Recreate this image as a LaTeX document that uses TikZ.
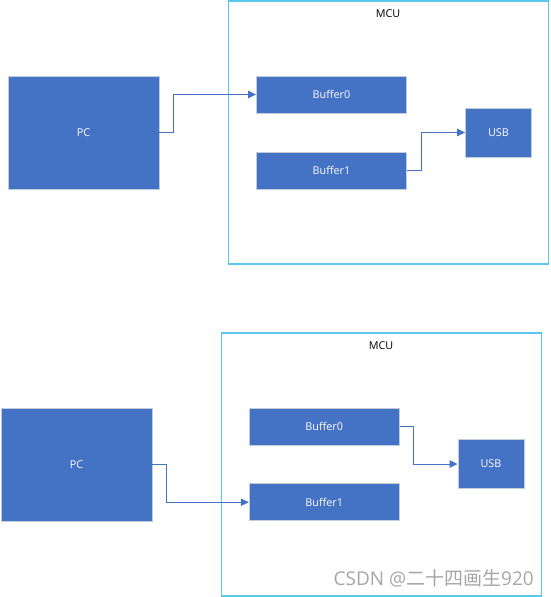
\documentclass[tikz,border=0pt]{standalone}
\usepackage{fontspec}
\setmainfont{Open Sans}
\newfontfamily\cjkfont{Noto Sans CJK SC}
\usetikzlibrary{arrows.meta}
\definecolor{blockblue}{HTML}{4472C4}
\definecolor{blockedge}{HTML}{C3CCDA}
\definecolor{mcuedge}{HTML}{5BC6EE}
\tikzset{
  block/.style={draw=blockedge, line width=0.9pt, fill=blockblue, text=white, font=\fontsize{10.8}{12}\selectfont, inner sep=0pt},
  mcubox/.style={draw=mcuedge, line width=1.4pt},
  link/.style={draw=blockblue, line width=0.9pt, -{Triangle[length=8pt,width=7.5pt]}}
}
\begin{document}
\begin{tikzpicture}[x=1pt,y=-1pt]
\useasboundingbox (0,0) rectangle (550,597);

%upper picture
\draw[mcubox] (228.5,1) rectangle (548.3,264); % MCU frame
\node[font=\fontsize{10.8}{12}\selectfont] (mcuA) at (388,14) {MCU};
\node[block, minimum width=151pt, minimum height=113pt] (pcA) at (83.5,132.5) {PC};
\node[block, minimum width=150pt, minimum height=37pt] (bufA0) at (331.5,94.5) {Buffer0};
\node[block, minimum width=150pt, minimum height=37pt] (bufA1) at (331.5,170.5) {Buffer1};
\node[block, minimum width=66pt, minimum height=49pt] (usbA) at (498.5,132.5) {USB};

%connections upper picture
\draw[link] (pcA.east) -- ++(14,0) |- (bufA0.west);
\draw[link] (bufA1.east) -- ++(14,0) |- (usbA.west);

%lower picture
\draw[mcubox] (221.5,333) rectangle (541.3,595.8); % MCU frame
\node[font=\fontsize{10.8}{12}\selectfont] (mcuB) at (381,346) {MCU};
\node[block, minimum width=151pt, minimum height=113pt] (pcB) at (76.5,464.5) {PC};
\node[block, minimum width=150pt, minimum height=37pt] (bufB0) at (324.2,426.5) {Buffer0};
\node[block, minimum width=150pt, minimum height=37pt] (bufB1) at (324.2,502.2) {Buffer1};
\node[block, minimum width=66pt, minimum height=49pt] (usbB) at (491,464) {USB};

%connections lower picture
\draw[link] (pcB.east) -- ++(14,0) |- (bufB1.west);
\draw[link] (bufB0.east) -- ++(13.5,0) |- (usbB.west);

%watermark
\node[anchor=east, text=black!35, font=\fontsize{19}{20}\selectfont, inner sep=0pt] (mark) at (534,578) {CSDN @{\cjkfont 二十四画生}920};
\end{tikzpicture}
\end{document}
